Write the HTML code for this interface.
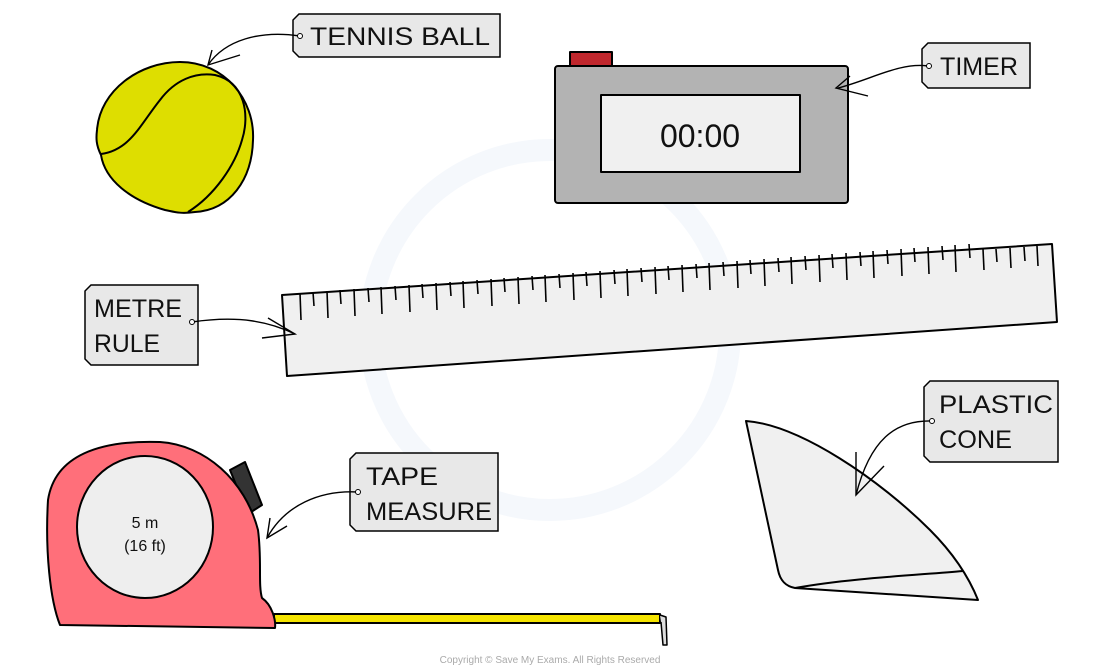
<!DOCTYPE html>
<html><head><meta charset="utf-8"><style>
html,body{margin:0;padding:0;background:#fff;width:1100px;height:669px;overflow:hidden}
svg{display:block}
text{font-family:"Liberation Sans",sans-serif;fill:#111}
</style></head><body>
<svg width="1100" height="669" viewBox="0 0 1100 669" xmlns="http://www.w3.org/2000/svg">
<circle cx="550" cy="330" r="180" fill="none" stroke="#f5f8fc" stroke-width="22"/>
<g fill="none" stroke="#000" stroke-width="2" stroke-linejoin="round">
<path d="M97,130 C100,90 140,62 180,62 C225,62 255,100 253,140 C252,180 230,210 195,212 C180,214 175,212 165,210 C130,200 105,180 101,155 C96,145 96,138 97,130 Z" fill="#dede00"/>
<path d="M101,154 C130,150 140,125 160,100 C175,80 195,72 215,75 C245,82 250,115 242,140 C235,165 215,195 188,212"/>
<!-- timer -->
<rect x="570" y="52" width="42" height="15" fill="#c0272d"/>
<rect x="555" y="66" width="293" height="137" rx="3" fill="#b3b3b3"/>
<rect x="601" y="95" width="199" height="77" fill="#f0f0f0"/>
<polygon points="282,295 1052,244 1057,322 287,376" fill="#f0f0f0"/>
<path d="M746,421 C800,425 880,480 930,530 C955,555 970,580 978,600 L795,588 C785,586 780,580 778,570 Z" fill="#f0f0f0"/>
<path d="M795,588 C850,578 920,575 963,571"/>
<rect x="274" y="614" width="386" height="9" fill="#f5e400"/>
<path d="M660,615 L666,617 L667,645 L663,645 L661,622" fill="#ddd" stroke-width="1.5"/>
<path d="M230,470 L245,462 L262,505 L248,514 Z" fill="#333"/>
<path d="M48,500 C55,455 100,440 160,442 C205,445 245,480 258,530 C262,560 258,585 262,598 C272,605 276,620 275,628 L60,625 C50,600 45,550 48,500 Z" fill="#ff6f7a"/>
<ellipse cx="145" cy="527" rx="68" ry="71" fill="#eeeeee"/>
</g>
<g stroke="#000" stroke-width="1.6">
<line x1="300" y1="293" x2="301" y2="320"/><line x1="313" y1="292" x2="314" y2="306"/>
<line x1="327" y1="291" x2="328" y2="318"/><line x1="340" y1="290" x2="341" y2="304"/>
<line x1="354" y1="289" x2="355" y2="316"/><line x1="368" y1="288" x2="369" y2="302"/>
<line x1="381" y1="287" x2="382" y2="314"/><line x1="395" y1="286" x2="396" y2="300"/>
<line x1="409" y1="285" x2="410" y2="312"/><line x1="422" y1="284" x2="423" y2="298"/>
<line x1="436" y1="283" x2="437" y2="310"/><line x1="450" y1="282" x2="451" y2="296"/>
<line x1="463" y1="281" x2="464" y2="308"/><line x1="477" y1="280" x2="478" y2="294"/>
<line x1="491" y1="279" x2="492" y2="306"/><line x1="504" y1="278" x2="505" y2="292"/>
<line x1="518" y1="277" x2="519" y2="304"/><line x1="532" y1="276" x2="533" y2="290"/>
<line x1="545" y1="275" x2="546" y2="302"/><line x1="559" y1="274" x2="560" y2="288"/>
<line x1="573" y1="273" x2="574" y2="300"/><line x1="586" y1="272" x2="587" y2="286"/>
<line x1="600" y1="271" x2="601" y2="298"/><line x1="614" y1="270" x2="615" y2="284"/>
<line x1="627" y1="269" x2="628" y2="296"/><line x1="641" y1="268" x2="642" y2="282"/>
<line x1="655" y1="267" x2="656" y2="294"/><line x1="668" y1="266" x2="669" y2="280"/>
<line x1="682" y1="265" x2="683" y2="292"/><line x1="696" y1="264" x2="697" y2="278"/>
<line x1="709" y1="263" x2="710" y2="290"/><line x1="723" y1="262" x2="724" y2="276"/>
<line x1="737" y1="261" x2="738" y2="288"/><line x1="750" y1="260" x2="751" y2="274"/>
<line x1="764" y1="259" x2="765" y2="286"/><line x1="778" y1="258" x2="779" y2="272"/>
<line x1="791" y1="257" x2="792" y2="284"/><line x1="805" y1="256" x2="806" y2="270"/>
<line x1="819" y1="255" x2="820" y2="282"/><line x1="832" y1="254" x2="833" y2="268"/>
<line x1="846" y1="253" x2="847" y2="280"/><line x1="860" y1="252" x2="861" y2="266"/>
<line x1="873" y1="251" x2="874" y2="278"/><line x1="887" y1="250" x2="888" y2="264"/>
<line x1="901" y1="249" x2="902" y2="276"/><line x1="914" y1="248" x2="915" y2="262"/>
<line x1="928" y1="247" x2="929" y2="274"/><line x1="942" y1="246" x2="943" y2="260"/>
<line x1="955" y1="245" x2="956" y2="272"/><line x1="969" y1="244" x2="970" y2="258"/>
<line x1="983" y1="249" x2="984" y2="270"/><line x1="996" y1="249" x2="997" y2="262"/>
<line x1="1010" y1="248" x2="1011" y2="268"/><line x1="1024" y1="247" x2="1025" y2="261"/>
<line x1="1037" y1="246" x2="1038" y2="266"/>
</g>
<g fill="#e8e8e8" stroke="#000" stroke-width="1.5">
<path d="M299,14 L500,14 L500,57 L299,57 L293,51 L293,20 Z"/>
<path d="M928,43 L1030,43 L1030,88 L928,88 L922,82 L922,49 Z"/>
<path d="M91,285 L198,285 L198,365 L91,365 L85,359 L85,291 Z"/>
<path d="M356,453 L498,453 L498,531 L356,531 L350,525 L350,459 Z"/>
<path d="M930,381 L1058,381 L1058,462 L930,462 L924,456 L924,387 Z"/>
</g>
<g fill="none" stroke="#000" stroke-width="1.4">
<path d="M300,36 C260,30 225,40 208,65"/><path d="M212,50 L208,65 L240,55"/>
<path d="M928,66 C900,62 870,80 838,88"/><path d="M850,76 L836,88 L868,96"/>
<path d="M192,322 C240,315 270,322 295,334"/><path d="M268,318 L295,334 L262,338"/>
<path d="M358,492 C320,490 285,505 267,538"/><path d="M270,518 L267,538 L287,526"/>
<path d="M932,421 C895,420 870,440 856,495"/><path d="M856,452 L856,495 L884,466"/>
</g>
<g fill="#fff" stroke="#000" stroke-width="1"><circle cx="300" cy="36" r="2.5"/><circle cx="929" cy="66" r="2.5"/><circle cx="192" cy="322" r="2.5"/><circle cx="358" cy="492" r="2.5"/><circle cx="932" cy="421" r="2.5"/></g>
<text x="310" y="45" font-size="25" textLength="180" lengthAdjust="spacingAndGlyphs">TENNIS  BALL</text>
<text x="940" y="75" font-size="25" textLength="78" lengthAdjust="spacingAndGlyphs">TIMER</text>
<text x="94" y="317" font-size="25" textLength="88" lengthAdjust="spacingAndGlyphs">METRE</text>
<text x="94" y="352" font-size="25" textLength="66" lengthAdjust="spacingAndGlyphs">RULE</text>
<text x="366" y="485" font-size="25" textLength="72" lengthAdjust="spacingAndGlyphs">TAPE</text>
<text x="366" y="520" font-size="25" textLength="126" lengthAdjust="spacingAndGlyphs">MEASURE</text>
<text x="939" y="413" font-size="25" textLength="114" lengthAdjust="spacingAndGlyphs">PLASTIC</text>
<text x="939" y="448" font-size="25" textLength="73" lengthAdjust="spacingAndGlyphs">CONE</text>
<text x="700" y="147" font-size="32" text-anchor="middle">00:00</text>
<text x="145" y="528" font-size="16" text-anchor="middle">5 m</text>
<text x="145" y="551" font-size="16" text-anchor="middle">(16 ft)</text>
<text x="550" y="663" font-size="10" text-anchor="middle" style="fill:#aaa">Copyright © Save My Exams. All Rights Reserved</text>
</svg>
</body></html>
